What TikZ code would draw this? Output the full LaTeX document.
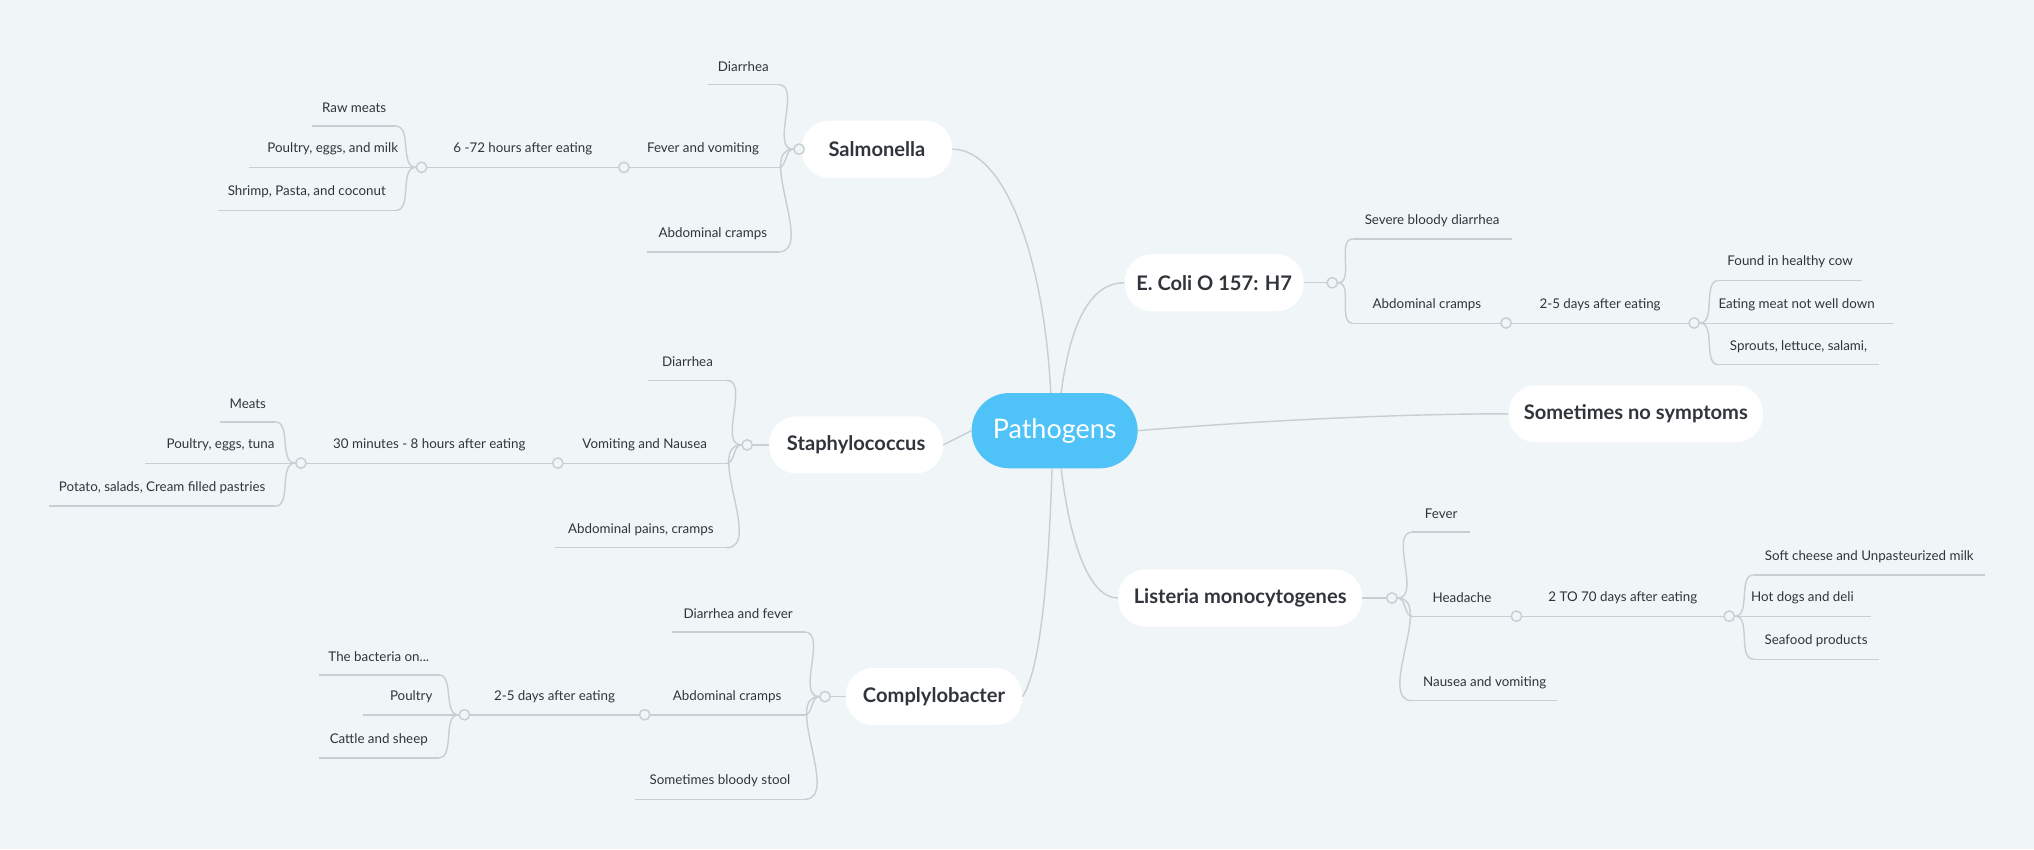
\documentclass[tikz,border=0pt]{standalone}
\usepackage{fontspec}
\setmainfont{Lato}
\begin{document}
\begin{tikzpicture}[x=1pt,y=-1pt,
  con/.style={draw=lc,line width=1.1pt},
  leaf/.style={inner sep=0pt,minimum height=28pt,font=\fontsize{10.3}{12}\selectfont,text=tc},
  main/.style={fill=white,rounded corners=21pt,minimum height=44pt,inner sep=0pt,font=\fontsize{15.5}{18}\selectfont\bfseries,text=tc},
  jn/.style={circle,draw=lc,line width=1.1pt,fill=bg,minimum size=8pt,inner sep=0pt}]
\definecolor{bg}{HTML}{F0F5F8}
\definecolor{lc}{HTML}{C9CED3}
\definecolor{tc}{HTML}{30353B}
\definecolor{pc}{HTML}{4FC3F7}
\fill[bg] (0,0) rectangle (1568,654.5);
\useasboundingbox (0,0) rectangle (1568,654.5);
\newcommand\lf[6]{%
  \node[leaf,minimum width={#3-#2}] (#1) at ({(#2+#3)/2},{#4-14}) {#5};
  \draw[con] (#1.south west) -- (#1.south east);}
\newcommand\conL[2]{\draw[con] (#1.west) to[out=180,in=0,looseness=0.9] (#2.south east);}
\newcommand\conR[2]{\draw[con] (#1.east) to[out=0,in=180,looseness=0.9] (#2.south west);}

\node[fill=pc,rounded corners=29pt,minimum width=128pt,minimum height=58pt,text=white,font=\fontsize{20.8}{24}\selectfont] (P) at (813,332) {Pathogens};

\node[main,minimum width=116pt] (S) at (676,115) {Salmonella};
\node[main,minimum width=134pt] (T) at (660,343) {Staphylococcus};
\node[main,minimum width=136pt] (C) at (720,537) {Complylobacter};
\node[main,minimum width=138pt] (E) at (936,218) {E. Coli O 157: H7};
\node[main,minimum width=196pt] (N) at (1261,319) {Sometimes no symptoms};
\node[main,minimum width=188pt] (L) at (956,461) {Listeria monocytogenes};

\draw[con] (810,303) .. controls (805,200) and (775,115) .. (S.east);
\draw[con] (P.west) -- (T.east);
\draw[con] (811,361) .. controls (808,460) and (800,520) .. (C.east);
\draw[con] (818,303) .. controls (825,250) and (840,218) .. (E.west);
\draw[con] (P.east) .. controls (1000,322) and (1100,319) .. (N.west);
\draw[con] (818,361) .. controls (825,420) and (840,461) .. (L.west);

% Salmonella
\lf{s1}{546}{600}{65}{Diarrhea}{}
\lf{s2}{484}{600}{129}{Fever and vomiting}{}
\lf{s3}{499}{600}{194}{Abdominal cramps}{}
\draw[con] (S.west) -- (620,115);
\node[jn] (jS) at (616,115) {};
\conL{jS}{s1}\conL{jS}{s2}\conL{jS}{s3}
\lf{s4}{329}{477}{129}{6 -72 hours after eating}{}
\node[jn] (jS1) at (481,129) {};
\lf{s5}{241}{305}{97}{Raw meats}{}
\lf{s6}{192}{321}{129}{Poultry, eggs, and milk}{}
\lf{s7}{168}{305}{162}{Shrimp, Pasta, and coconut}{}
\node[jn] (jS2) at (325,129) {};
\conL{jS2}{s5}\conL{jS2}{s7}

% Staphylococcus
\lf{t1}{500}{560}{293}{Diarrhea}{}
\lf{t2}{434}{560}{357}{Vomiting and Nausea}{}
\lf{t3}{428}{560}{422}{Abdominal pains, cramps}{}
\draw[con] (T.west) -- (580,343);
\node[jn] (jT) at (576,343) {};
\conL{jT}{t1}\conL{jT}{t2}\conL{jT}{t3}
\lf{t4}{236}{426}{357}{30 minutes - 8 hours after eating}{}
\node[jn] (jT1) at (430,357) {};
\lf{t5}{170}{212}{325}{Meats}{}
\lf{t6}{112}{228}{357}{Poultry, eggs, tuna}{}
\lf{t7}{38}{212}{390}{Potato, salads, Cream filled pastries}{}
\node[jn] (jT2) at (232,357) {};
\conL{jT2}{t5}\conL{jT2}{t7}

% Complylobacter
\lf{c1}{518}{620}{487}{Diarrhea and fever}{}
\lf{c2}{501}{620}{551}{Abdominal cramps}{}
\lf{c3}{490}{620}{616}{Sometimes bloody stool}{}
\draw[con] (C.west) -- (640,537);
\node[jn] (jC) at (636,537) {};
\conL{jC}{c1}\conL{jC}{c2}\conL{jC}{c3}
\lf{c4}{362}{493}{551}{2-5 days after eating}{}
\node[jn] (jC1) at (497,551) {};
\lf{c5}{246}{338}{520}{The bacteria on...}{}
\lf{c6}{280}{354}{551}{Poultry}{}
\lf{c7}{246}{338}{584}{Cattle and sheep}{}
\node[jn] (jC2) at (358,551) {};
\conL{jC2}{c5}\conL{jC2}{c7}

% E. Coli
\lf{e1}{1043}{1165}{184}{Severe bloody diarrhea}{}
\lf{e2}{1043}{1157}{249}{Abdominal cramps}{}
\draw[con] (E.east) -- (1023,218);
\node[jn] (jE) at (1027,218) {};
\conR{jE}{e1}\conR{jE}{e2}
\lf{e3}{1165}{1302}{249}{2-5 days after eating}{}
\node[jn] (jE1) at (1161,249) {};
\lf{e4}{1325}{1435}{216}{Found in healthy cow}{}
\lf{e5}{1310}{1460}{249}{Eating meat not well down}{}
\lf{e6}{1325}{1448}{281}{Sprouts, lettuce, salami,}{}
\node[jn] (jE2) at (1306,249) {};
\conR{jE2}{e4}\conR{jE2}{e6}

% Listeria
\lf{l1}{1089}{1133}{410}{Fever}{}
\lf{l2}{1089}{1165}{475}{Headache}{}
\lf{l3}{1089}{1200}{540}{Nausea and vomiting}{}
\draw[con] (L.east) -- (1069,461);
\node[jn] (jL) at (1073,461) {};
\conR{jL}{l1}\conR{jL}{l2}\conR{jL}{l3}
\lf{l4}{1173}{1329}{475}{2 TO 70 days after eating}{}
\node[jn] (jL1) at (1169,475) {};
\lf{l5}{1352}{1530}{443}{Soft cheese and Unpasteurized milk}{}
\lf{l6}{1337}{1442}{475}{Hot dogs and deli}{}
\lf{l7}{1352}{1448}{508}{Seafood products}{}
\node[jn] (jL2) at (1333,475) {};
\conR{jL2}{l5}\conR{jL2}{l7}
\end{tikzpicture}
\end{document}
